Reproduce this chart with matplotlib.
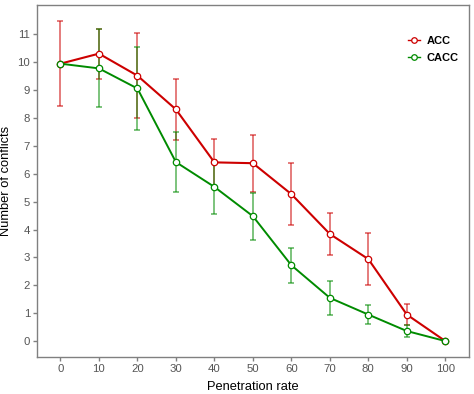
import matplotlib
matplotlib.use("Agg")
import matplotlib.pyplot as plt

plt.rcParams['font.family'] = ['Liberation Sans', 'DejaVu Sans']

rate = [0, 10, 20, 30, 40, 50, 60, 70, 80, 90, 100]
acc = [9.95, 10.31, 9.52, 8.31, 6.41, 6.38, 5.27, 3.84, 2.94, 0.95, 0.0]
acc_err = [1.53, 0.90, 1.52, 1.08, 0.84, 1.02, 1.12, 0.75, 0.94, 0.37, 0.0]
cacc = [9.95, 9.78, 9.06, 6.42, 5.53, 4.48, 2.72, 1.55, 0.95, 0.36, 0.0]
cacc_err = [0.0, 1.40, 1.49, 1.07, 0.96, 0.84, 0.62, 0.61, 0.35, 0.23, 0.0]

red = "#CD0000"
green = "#008B00"

fig = plt.figure(figsize=(4.74, 3.94), dpi=100)
ax = fig.add_axes([0.078, 0.094, 0.911, 0.893])

# error bars first, a bit transparent
ax.errorbar(rate, acc, yerr=acc_err, fmt="none", ecolor=red, alpha=0.65,
            elinewidth=1.1, capsize=2.4, capthick=1.1)
ax.errorbar(rate, cacc, yerr=cacc_err, fmt="none", ecolor=green, alpha=0.65,
            elinewidth=1.1, capsize=2.4, capthick=1.1)

ax.plot(rate, acc, color=red, lw=1.5, marker="o", ms=4.6, mfc="white",
        mec=red, mew=0.9, label="ACC", zorder=3)
ax.plot(rate, cacc, color=green, lw=1.4, marker="o", ms=4.6, mfc="white",
        mec=green, mew=0.9, label="CACC", zorder=3)

ax.set_xlim(-6.1, 106.1)
ax.set_ylim(-0.57, 12.05)
ax.set_xticks(rate)
ax.set_yticks(range(0, 12))

for s in ax.spines.values():
    s.set_color("#808080")
    s.set_linewidth(1)
ax.tick_params(colors="#808080", labelcolor="#555555", labelsize=8.2,
               length=3, width=1, pad=2)

ax.set_xlabel("Penetration rate", fontsize=9.3)
ax.set_ylabel("Number of conflicts", fontsize=9.3)
ax.xaxis.set_label_coords(0.5, -0.067)
ax.yaxis.set_label_coords(-0.058, 0.5)

leg = ax.legend(loc="upper right", bbox_to_anchor=(1.0, 0.94), frameon=False,
                prop={"weight": "bold", "size": 8}, handlelength=1.1,
                handletextpad=0.6, labelspacing=0.6)
for h in leg.get_lines():
    h.set_linewidth(1)
    h.set_markersize(4)

fig.savefig("out.png", dpi=100)
